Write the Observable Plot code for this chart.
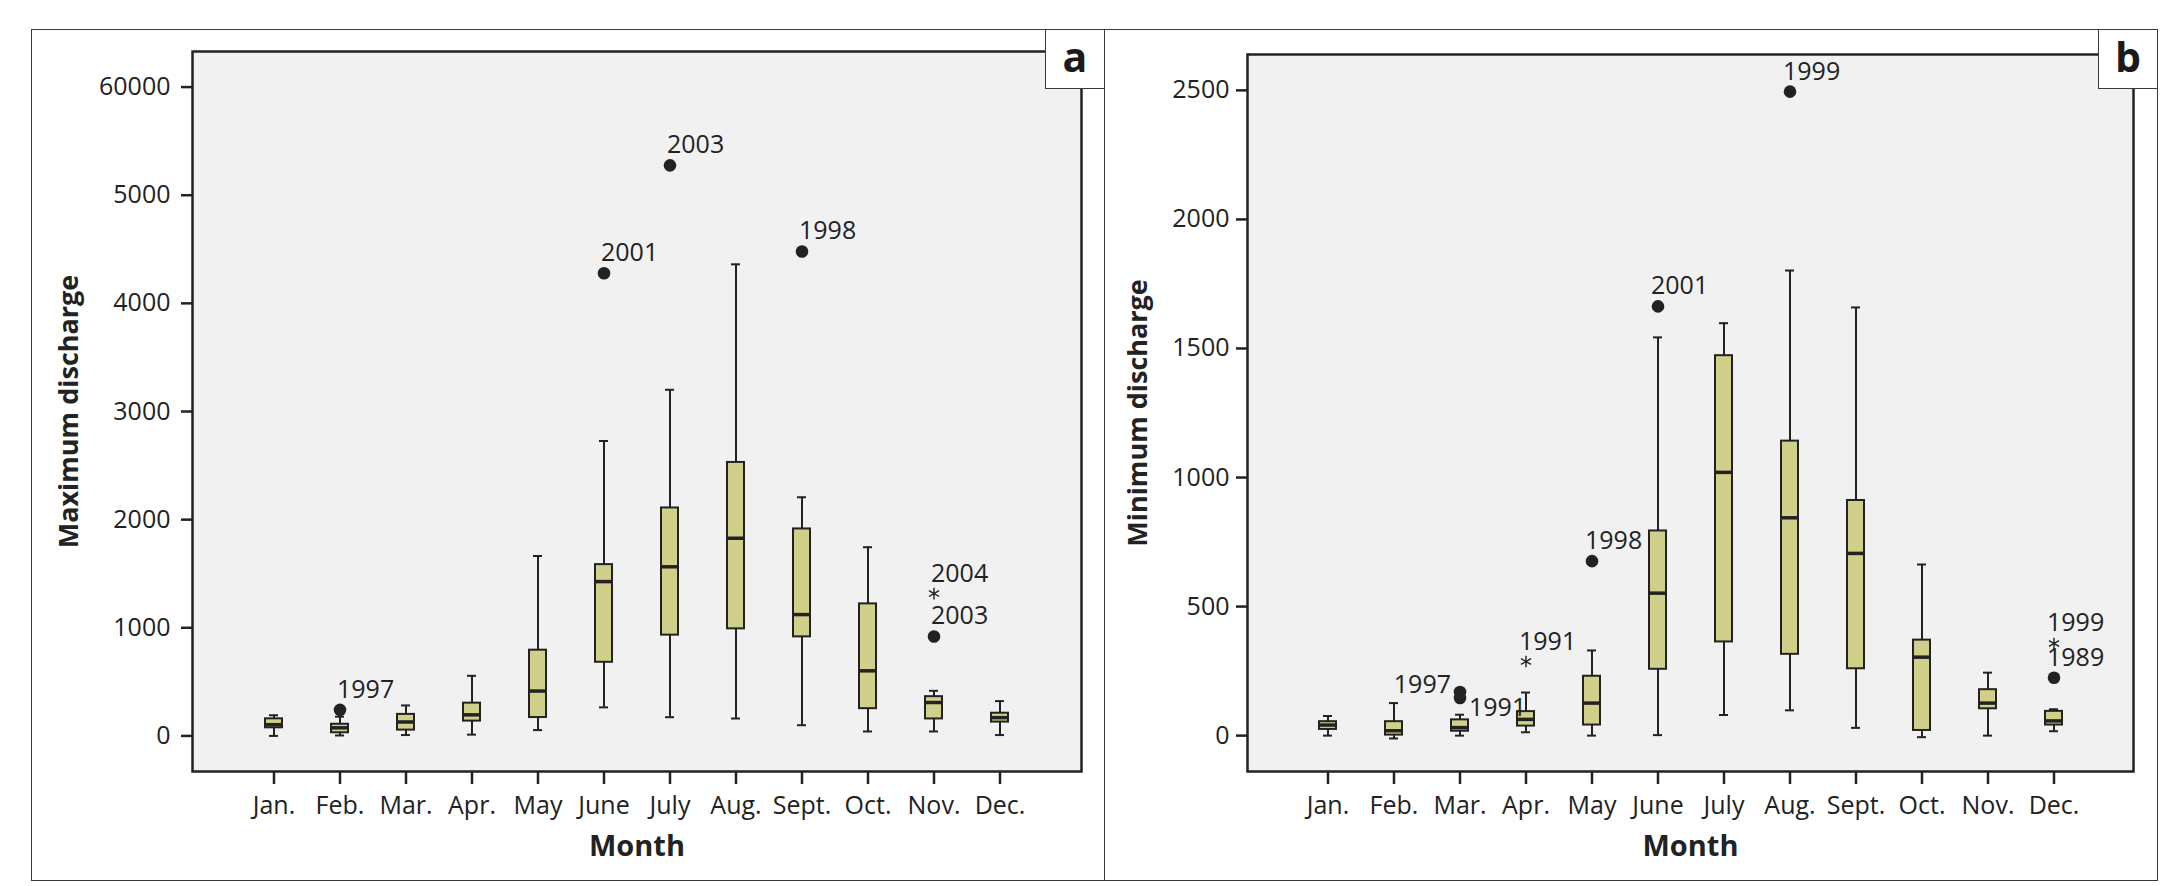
<!DOCTYPE html>
<html>
<head>
<meta charset="utf-8">
<script src="https://cdn.jsdelivr.net/npm/d3@7"></script>
<script src="https://cdn.jsdelivr.net/npm/@observablehq/plot@0.6"></script>
<style>
  html, body { margin: 0; padding: 0; background: #fff; }
  #wrap { position: relative; width: 2165px; height: 886px; background: #fff; overflow: hidden;
          font-family: "Open Sans", sans-serif; color: #222; }
  .chart { position: absolute; top: 29px; }
  .border { position: absolute; border: 1.4px solid #3a3a3a; box-sizing: border-box; pointer-events: none; }
  .tag { position: absolute; top: 29px; width: 60px; height: 60px; background: #fff; border: 1.4px solid #3a3a3a;
         box-sizing: border-box; font-weight: bold; font-size: 41px; line-height: 52px; text-align: center; color: #1a1a1a; }
</style>
</head>
<body>
<div id="wrap">
  <div id="chartA" class="chart" style="left:32px;"></div>
  <div id="chartB" class="chart" style="left:1104px;"></div>
  <div class="border" style="left:31px;top:29px;width:1074px;height:852px;"></div>
  <div class="border" style="left:1104px;top:29px;width:1054px;height:852px;"></div>
  <div class="tag" style="left:1045px;">a</div>
  <div class="tag" style="left:2098px;">b</div>
</div>
<script>
// ---------- data ----------
const months = ["Jan.", "Feb.", "Mar.", "Apr.", "May", "June", "July", "Aug.", "Sept.", "Oct.", "Nov.", "Dec."];

// Panel a: Maximum discharge
const maxLow    = [0,   4,   8,   12,  54,   264,  173,  161,  99,   41,   41,  8];
const maxQ1     = [75,  29,  54,  137, 170,  681,  932,  990,  916,  252,  157, 128];
const maxMedian = [104, 75,  129, 195, 415,  1427, 1564, 1828, 1122, 602,  309, 169];
const maxQ3     = [158, 108, 199, 303, 793,  1584, 2108, 2529, 1914, 1221, 363, 210];
const maxHigh   = [191, 178, 282, 556, 1664, 2727, 3201, 4361, 2207, 1745, 417, 322];
const maxOutMonth = ["Feb.", "June", "July", "Sept.", "Nov.", "Nov."];
const maxOutValue = [241, 4278, 5276, 4480, 920, 1316];
const maxOutYear  = ["1997", "2001", "2003", "1998", "2003", "2004"];
const maxOutKind  = ["outlier", "outlier", "outlier", "outlier", "outlier", "extreme"];
const maxTicks      = [0, 1000, 2000, 3000, 4000, 5000, 6000];
const maxTickLabels = ["0", "1000", "2000", "3000", "4000", "5000", "60000"];

// Panel b: Minimum discharge
const minLow    = [0,  -11, 0,  13,  0,   2,    80,   98,   30,   -6,  0,   17];
const minQ1     = [24, 2,   17, 37,  41,  257,  363,  315,  259,  20,  104, 41];
const minMedian = [41, 19,  31, 63,  126, 552,  1020, 844,  706,  304, 126, 57];
const minQ3     = [54, 54,  61, 93,  230, 793,  1472, 1141, 911,  370, 178, 94];
const minHigh   = [76, 126, 81, 167, 330, 1543, 1598, 1802, 1659, 663, 244, 102];
const minOutMonth = ["Mar.", "Mar.", "Apr.", "May", "June", "Aug.", "Dec.", "Dec."];
const minOutValue = [169, 146, 287, 676, 1663, 2495, 224, 357];
const minOutYear  = ["1997", "1991", "1991", "1998", "2001", "1999", "1989", "1999"];
const minOutKind  = ["outlier", "outlier", "extreme", "outlier", "outlier", "outlier", "outlier", "extreme"];
const minTicks      = [0, 500, 1000, 1500, 2000, 2500];
const minTickLabels = ["0", "500", "1000", "1500", "2000", "2500"];

// ---------- drawing ----------
const INK = "#222";
const BOXFILL = "#d1d08a";
const FONT = "'Open Sans', sans-serif";

// special label placements (styling only)
const specialLabel = {
  "Mar. 1997": {textAnchor: "end", dx: -9, dy: 1},
  "Mar. 1991": {textAnchor: "start", dx: 9, dy: 18}
};

function boxChart(cfg) {
  const stats = months.map((m, i) => ({
    month: m, low: cfg.low[i], q1: cfg.q1[i], med: cfg.med[i], q3: cfg.q3[i], high: cfg.high[i]
  }));
  const outs = cfg.outMonth.map((m, i) => ({
    month: m, value: cfg.outValue[i], year: cfg.outYear[i], kind: cfg.outKind[i]
  }));
  const isSpecial = d => specialLabel[d.month + " " + d.year] !== undefined;
  const labelMarks = [
    Plot.text(outs.filter(d => !isSpecial(d)), {
      x: "month", y: "value", text: "year", textAnchor: "start", lineAnchor: "bottom",
      dx: cfg.labelDx, dy: -12, fontSize: 25, fill: INK
    })
  ];
  for (const d of outs.filter(isSpecial)) {
    const p = specialLabel[d.month + " " + d.year];
    labelMarks.push(Plot.text([d], {
      x: "month", y: "value", text: "year", textAnchor: p.textAnchor, lineAnchor: "bottom",
      dx: p.dx, dy: p.dy, fontSize: 25, fill: INK
    }));
  }
  return Plot.plot({
    width: cfg.width, height: 851,
    marginLeft: cfg.marginLeft, marginRight: cfg.marginRight, marginTop: cfg.marginTop, marginBottom: 109,
    style: {background: "transparent", fontFamily: FONT, fontSize: "25px", color: INK, overflow: "visible"},
    x: {type: "band", domain: months, paddingInner: 0.745, paddingOuter: 1.04, align: 0.5},
    y: {domain: cfg.yDomain},
    marks: [
      Plot.frame({fill: "#f1f1f1", stroke: null}),
      Plot.axisY({ticks: cfg.ticks, tickFormat: d => cfg.tickLabels[cfg.ticks.indexOf(d)],
                  tickSize: 11, tickPadding: cfg.tickPadding, strokeWidth: 2.5, label: null, fontSize: 25}),
      Plot.axisX({tickSize: 13, tickPadding: 12, strokeWidth: 2.5, label: null, fontSize: 25}),
      Plot.ruleX(stats, {x: "month", y1: "low", y2: "high", stroke: INK, strokeWidth: 2}),
      Plot.tickY(stats, {x: "month", y: "low", stroke: INK, strokeWidth: 2, insetLeft: 4, insetRight: 4}),
      Plot.tickY(stats, {x: "month", y: "high", stroke: INK, strokeWidth: 2, insetLeft: 4, insetRight: 4}),
      Plot.barY(stats, {x: "month", y1: "q1", y2: "q3", fill: BOXFILL, stroke: INK, strokeWidth: 2}),
      Plot.tickY(stats, {x: "month", y: "med", stroke: INK, strokeWidth: 3.5}),
      Plot.dot(outs.filter(d => d.kind === "outlier"), {x: "month", y: "value", r: 6.3, fill: INK, stroke: null}),
      Plot.dot(outs.filter(d => d.kind === "extreme"), {x: "month", y: "value", r: 5.5, symbol: "asterisk", stroke: INK, strokeWidth: 1.4}),
      ...labelMarks,
      Plot.frame({stroke: INK, strokeWidth: 2.5}),
      Plot.text([cfg.yLabel], {text: d => d, frameAnchor: "left", rotate: -90, dx: cfg.yLabelDx,
                  textAnchor: "middle", lineAnchor: "middle", fontWeight: "bold", fontSize: 27, fill: INK}),
      Plot.text(["Month"], {text: d => d, frameAnchor: "bottom", dy: 75,
                  textAnchor: "middle", lineAnchor: "middle", fontWeight: "bold", fontSize: 29, fill: INK})
    ]
  });
}

document.getElementById("chartA").appendChild(boxChart({
  width: 1072, marginLeft: 160, marginRight: 23, marginTop: 22, tickPadding: 11,
  yDomain: [-329, 6329], ticks: maxTicks, tickLabels: maxTickLabels,
  low: maxLow, q1: maxQ1, med: maxMedian, q3: maxQ3, high: maxHigh,
  outMonth: maxOutMonth, outValue: maxOutValue, outYear: maxOutYear, outKind: maxOutKind,
  labelDx: -3, yLabel: "Maximum discharge", yLabelDx: -123
}));

document.getElementById("chartB").appendChild(boxChart({
  width: 1053, marginLeft: 143, marginRight: 24, marginTop: 25, tickPadding: 7,
  yDomain: [-139, 2639], ticks: minTicks, tickLabels: minTickLabels,
  low: minLow, q1: minQ1, med: minMedian, q3: minQ3, high: minHigh,
  outMonth: minOutMonth, outValue: minOutValue, outYear: minOutYear, outKind: minOutKind,
  labelDx: -7, yLabel: "Minimum discharge", yLabelDx: -109
}));
</script>
</body>
</html>
